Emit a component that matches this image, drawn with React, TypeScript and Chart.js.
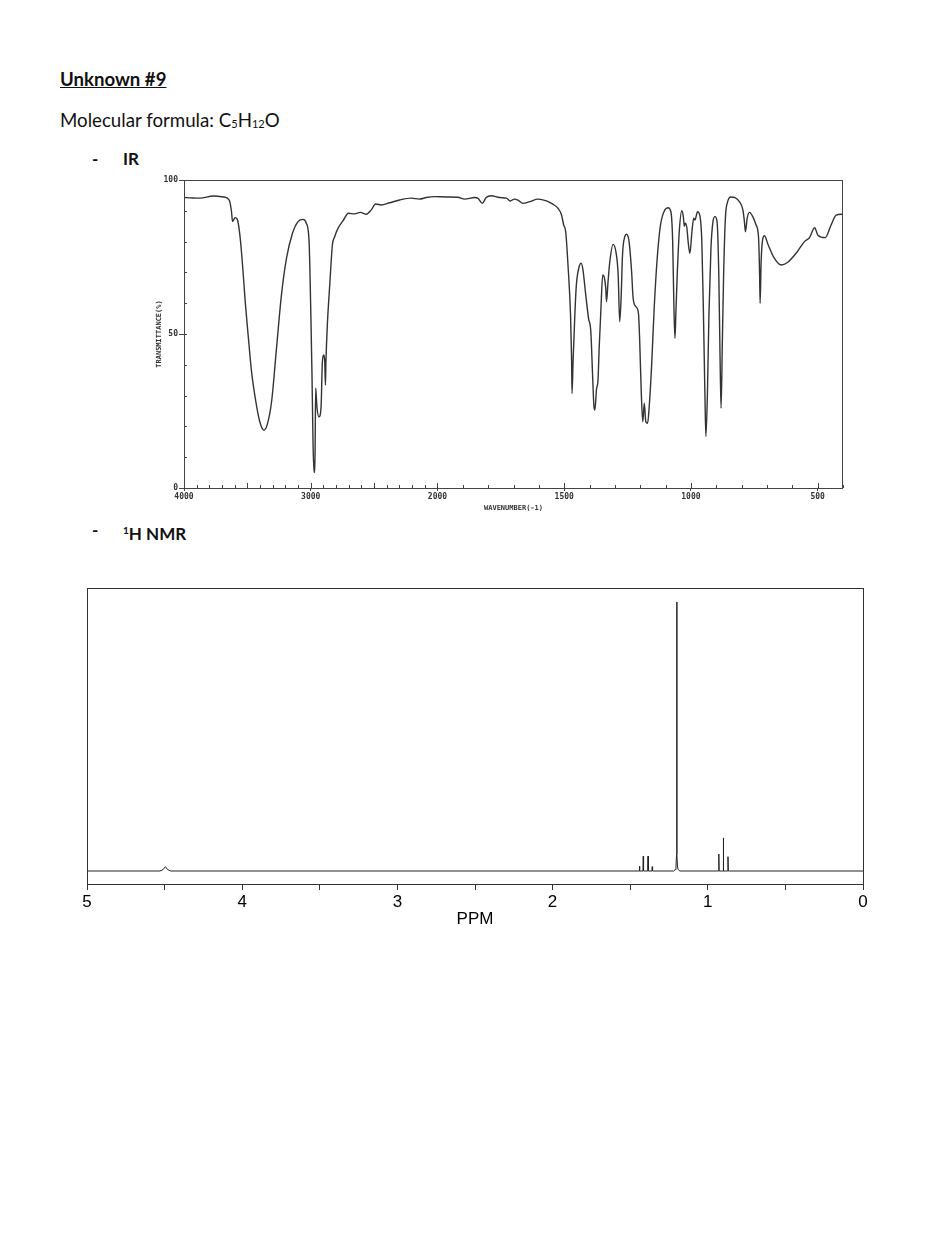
import React, { useEffect, useRef } from 'react';
import { Chart, registerables } from 'chart.js';

Chart.register(...registerables);

// ---------------- IR data (wavenumber cm-1, transmittance %) ----------------
const IR_WAVENUMBER = [
  4000, 3950, 3874, 3769, 3690, 3643, 3625, 3617, 3596, 3580, 3559, 3538, 3517, 3494, 3467, 3433,
  3402, 3370, 3344, 3309, 3270, 3231, 3191, 3144, 3100, 3061, 3034, 3013, 3000, 2990, 2982, 2974,
  2966, 2961, 2957, 2950, 2935, 2919, 2908, 2898, 2890, 2884, 2880, 2869, 2850, 2829, 2811, 2785,
  2746, 2702, 2654, 2609, 2561, 2522, 2488, 2443, 2378, 2299, 2207, 2142, 2089, 2024, 1966, 1920,
  1893, 1854, 1841, 1823, 1808, 1788, 1755, 1728, 1713, 1696, 1683, 1663, 1636, 1603, 1570, 1544,
  1524, 1511, 1502, 1494, 1485, 1475, 1471, 1469, 1465, 1458, 1452, 1441, 1433, 1426, 1415, 1404,
  1395, 1388, 1383, 1379, 1372, 1367, 1362, 1355, 1348, 1342, 1336, 1333, 1327, 1320, 1307, 1296,
  1287, 1281, 1275, 1270, 1261, 1254, 1244, 1234, 1228, 1217, 1207, 1202, 1196, 1190, 1184, 1178,
  1171, 1165, 1155, 1145, 1133, 1120, 1103, 1090, 1079, 1072, 1067, 1063, 1059, 1054, 1046, 1036,
  1030, 1026, 1022, 1016, 1011, 1004, 996, 989, 984, 974, 964, 957, 951, 945, 941, 935,
  929, 921, 913, 905, 897, 890, 885, 881, 876, 871, 864, 855, 842, 826, 809, 795,
  789, 785, 778, 769, 756, 743, 733, 729, 727, 723, 716, 710, 695, 671, 644, 618,
  585, 552, 532, 512, 499, 470, 447, 427, 407, 400,
];
const IR_TRANSMITTANCE = [
  94.3, 94.2, 94.1, 94.8, 94.5, 93.5, 89.7, 86.5, 87.8, 87.3, 82.1, 72.4, 60.5, 49.7, 37.8, 28.0,
  21.5, 18.8, 20.5, 28.0, 45.4, 62.7, 74.6, 82.7, 86.5, 87.2, 85.9, 80.0, 58.3, 36.7, 15.0, 5.0,
  10.7, 32.4, 30.2, 25.9, 23.1, 25.9, 41.0, 43.2, 41.5, 33.4, 41.0, 52.9, 65.9, 78.9, 81.6, 84.3,
  86.7, 89.2, 89.0, 89.5, 88.9, 90.3, 92.2, 91.9, 92.6, 93.5, 94.1, 93.8, 94.3, 94.6, 94.5, 94.4,
  93.8, 94.3, 94.1, 92.4, 94.3, 94.9, 94.3, 94.1, 93.2, 93.8, 93.5, 92.4, 93.0, 93.8, 93.2, 92.1,
  90.8, 88.8, 85.4, 83.2, 72.4, 56.2, 42.6, 30.7, 41.0, 56.2, 65.9, 71.9, 73.0, 70.8, 62.7, 55.1,
  50.8, 36.7, 26.9, 25.3, 32.4, 34.5, 45.4, 58.3, 69.2, 68.5, 64.8, 60.5, 67.0, 73.5, 79.1, 76.7,
  69.2, 54.0, 62.7, 75.6, 81.6, 82.4, 80.0, 70.2, 61.6, 58.9, 56.7, 47.5, 31.3, 21.5, 27.5, 21.5,
  21.0, 25.9, 39.9, 58.3, 74.6, 85.4, 90.3, 91.0, 89.7, 80.0, 58.3, 48.6, 57.8, 69.2, 83.2, 90.0,
  88.1, 85.0, 86.0, 84.5, 80.0, 76.2, 83.2, 87.6, 87.0, 89.7, 88.1, 80.0, 58.3, 31.3, 16.7, 30.2,
  56.2, 77.8, 86.5, 88.1, 86.5, 69.2, 42.1, 25.9, 47.5, 69.2, 87.6, 93.0, 94.5, 94.3, 93.0, 90.3,
  86.5, 83.2, 87.6, 89.5, 88.1, 85.4, 81.1, 69.2, 60.0, 73.5, 81.1, 81.9, 78.9, 74.6, 72.4, 73.3,
  76.2, 80.0, 81.3, 84.5, 82.1, 81.3, 85.4, 88.6, 88.9, 88.6,
];
const IR_X_TICKS = [4000, 3000, 2000, 1500, 1000, 500];
const IR_Y_TICKS = [0, 50, 100];

// ---------------- 1H NMR data (ppm, relative intensity) ----------------
const NMR_PPM = [
  5.0, 4.53, 4.51, 4.495, 4.48, 4.46,
  1.45, 1.442, 1.44, 1.438, 1.418, 1.416, 1.414, 1.387, 1.385, 1.383, 1.36, 1.358, 1.356,
  1.22, 1.21, 1.205, 1.2015, 1.2, 1.1985, 1.195, 1.19, 1.18,
  0.94, 0.932, 0.929, 0.927, 0.902, 0.9, 0.898, 0.872, 0.87, 0.868, 0.86, 0.0,
];
const NMR_INTENSITY = [
  0, 0, 0.5, 1.6, 0.5, 0,
  0, 0, 1.8, 0, 0, 5.5, 0, 0, 5.5, 0, 0, 1.6, 0,
  0, 0.5, 1.5, 6, 100, 6, 1.5, 0.5, 0,
  0, 0, 6.3, 0, 0, 12.3, 0, 0, 5.3, 0, 0, 0,
];
const NMR_TICKS = [0, 0.5, 1, 1.5, 2, 2.5, 3, 3.5, 4, 4.5, 5];
const NMR_TICK_LABELS = ['0', '', '1', '', '2', '', '3', '', '4', '', '5'];

// IR axis: 4000-2000 compressed 2x relative to 2000-400
const wnToPos = (w: number) => (w >= 2000 ? (4000 - w) / 2 : 1000 + (2000 - w));
const posToWn = (p: number) => Math.round(p <= 1000 ? 4000 - 2 * p : 2000 - (p - 1000));

const IR_FONT = 'DejaVu Sans Mono';
const TEXT_FONT = 'Lato';

function IRChart() {
  const ref = useRef<HTMLCanvasElement | null>(null);
  useEffect(() => {
    if (!ref.current) return;
    const framePlugin = {
      id: 'irFrame',
      afterDraw(chart: any) {
        const { ctx, chartArea: a, scales } = chart;
        ctx.save();
        ctx.strokeStyle = '#444';
        ctx.lineWidth = 1;
        ctx.strokeRect(a.left + 0.5, a.top + 0.5, a.right - a.left - 1, a.bottom - a.top);
        ctx.beginPath();
        for (let w = 4000; w >= 400; w -= 100) {
          const px = Math.round(scales.x.getPixelForValue(wnToPos(w))) + 0.5;
          const len = w % 500 === 0 ? 5 : 3;
          ctx.moveTo(px, a.bottom);
          ctx.lineTo(px, a.bottom - len);
        }
        for (let t = 10; t < 100; t += 10) {
          const py = Math.round(scales.y.getPixelForValue(t)) + 0.5;
          ctx.moveTo(a.left, py);
          ctx.lineTo(a.left + 3, py);
        }
        ctx.stroke();
        ctx.restore();
      },
    };
    const chart = new Chart(ref.current, {
      type: 'line',
      data: {
        datasets: [
          {
            data: IR_WAVENUMBER.map((w, i) => ({ x: wnToPos(w), y: IR_TRANSMITTANCE[i] })),
            borderColor: '#333',
            borderWidth: 1.4,
            pointRadius: 0,
            cubicInterpolationMode: 'monotone',
            fill: false,
          },
        ],
      },
      options: {
        responsive: false,
        animation: false,
        devicePixelRatio: 1,
        layout: { padding: { left: 14, top: 10, right: 10, bottom: 0 } },
        plugins: { legend: { display: false }, tooltip: { enabled: false } },
        scales: {
          x: {
            type: 'linear',
            min: 0,
            max: 2600,
            afterBuildTicks: (s: any) => {
              s.ticks = IR_X_TICKS.map((w) => ({ value: wnToPos(w) }));
            },
            afterFit: (s: any) => {
              s.height = 32;
            },
            ticks: {
              autoSkip: false,
              maxRotation: 0,
              minRotation: 0,
              padding: 1,
              color: '#333',
              font: { family: IR_FONT, size: 8, weight: 'bold' },
              callback: (v: any) => String(posToWn(Number(v))),
            },
            grid: { drawOnChartArea: false, drawTicks: true, tickLength: 3, color: '#444' },
            border: { display: false },
            title: {
              display: true,
              text: 'WAVENUMBER(-1)',
              color: '#333',
              font: { family: IR_FONT, size: 7, weight: 'bold' },
              padding: { top: 0, bottom: 8 },
            },
          },
          y: {
            type: 'linear',
            min: 0,
            max: 100,
            afterBuildTicks: (s: any) => {
              s.ticks = IR_Y_TICKS.map((v) => ({ value: v }));
            },
            afterFit: (s: any) => {
              s.width = 30;
            },
            ticks: {
              padding: 1,
              color: '#333',
              font: { family: IR_FONT, size: 8, weight: 'bold' },
            },
            grid: { drawOnChartArea: false, drawTicks: true, tickLength: 5, color: '#444' },
            border: { display: false },
            title: {
              display: true,
              text: 'TRANSMITTANCE(%)',
              color: '#333',
              font: { family: IR_FONT, size: 7, weight: 'bold' },
              padding: { top: 1, bottom: 0 },
            },
          },
        },
      },
      plugins: [framePlugin],
    } as any);
    return () => chart.destroy();
  }, []);
  return (
    <canvas
      ref={ref}
      width={713}
      height={350}
      style={{ position: 'absolute', left: 140, top: 170, width: 713, height: 350 }}
    />
  );
}

function NMRChart() {
  const ref = useRef<HTMLCanvasElement | null>(null);
  useEffect(() => {
    if (!ref.current) return;
    const framePlugin = {
      id: 'nmrFrame',
      afterDraw(chart: any) {
        const { ctx, chartArea: a } = chart;
        ctx.save();
        ctx.strokeStyle = '#333';
        ctx.lineWidth = 1;
        ctx.strokeRect(a.left + 0.5, a.top + 0.5, a.right - a.left, a.bottom - a.top);
        ctx.restore();
      },
    };
    const chart = new Chart(ref.current, {
      type: 'line',
      data: {
        datasets: [
          {
            data: NMR_PPM.map((p, i) => ({ x: p, y: NMR_INTENSITY[i] })),
            borderColor: '#222',
            borderWidth: 1,
            pointRadius: 0,
            tension: 0,
            fill: false,
          },
        ],
      },
      options: {
        responsive: false,
        animation: false,
        devicePixelRatio: 1,
        layout: { padding: { left: 27, top: 10, right: 27, bottom: 0 } },
        plugins: { legend: { display: false }, tooltip: { enabled: false } },
        scales: {
          x: {
            type: 'linear',
            min: 0,
            max: 5,
            reverse: true,
            afterBuildTicks: (s: any) => {
              s.ticks = NMR_TICKS.map((v) => ({ value: v }));
            },
            afterFit: (s: any) => {
              s.height = 50;
            },
            ticks: {
              autoSkip: false,
              maxRotation: 0,
              minRotation: 0,
              padding: 2,
              color: '#000',
              font: { family: 'Liberation Sans', size: 17 },
              callback: (v: any) => {
                const idx = NMR_TICKS.indexOf(Number(v));
                return idx >= 0 ? NMR_TICK_LABELS[idx] : '';
              },
            },
            grid: { drawOnChartArea: false, drawTicks: true, tickLength: 6, color: '#333' },
            border: { display: false },
            title: {
              display: true,
              text: 'PPM',
              color: '#000',
              font: { family: 'Liberation Sans', size: 17 },
              padding: { top: 0, bottom: 4 },
            },
          },
          y: {
            type: 'linear',
            display: false,
            min: -4.83,
            max: 105.2,
          },
        },
      },
      plugins: [framePlugin],
    } as any);
    return () => chart.destroy();
  }, []);
  return (
    <canvas
      ref={ref}
      width={830}
      height={356}
      style={{ position: 'absolute', left: 60, top: 578, width: 830, height: 356 }}
    />
  );
}

export default function App() {
  const text: React.CSSProperties = {
    position: 'absolute',
    fontFamily: TEXT_FONT,
    color: '#111',
    whiteSpace: 'nowrap',
    lineHeight: '20px',
    margin: 0,
  };
  return (
    <div
      style={{
        position: 'absolute',
        left: 0,
        top: 0,
        width: 925,
        height: 1250,
        overflow: 'hidden',
        background: '#fff',
      }}
    >
      <div style={{ ...text, left: 60, top: 69, fontSize: 18.6, fontWeight: 700, textDecoration: 'underline' }}>
        Unknown #9
      </div>
      <div style={{ ...text, left: 60, top: 110, fontSize: 18.7 }}>
        Molecular formula: C
        <span style={{ fontSize: 11, verticalAlign: '-1px' }}>5</span>H
        <span style={{ fontSize: 11, verticalAlign: '-1px' }}>12</span>O
      </div>
      <div style={{ ...text, left: 92, top: 149, fontSize: 17, fontWeight: 700 }}>-</div>
      <div style={{ ...text, left: 123, top: 149, fontSize: 17, fontWeight: 700 }}>IR</div>
      <div style={{ ...text, left: 92, top: 520, fontSize: 17, fontWeight: 700 }}>-</div>
      <div style={{ ...text, left: 123, top: 520, fontSize: 17, fontWeight: 700 }}>
        <span style={{ fontSize: 10, verticalAlign: '6px' }}>1</span>H NMR
      </div>
      <IRChart />
      <NMRChart />
    </div>
  );
}
